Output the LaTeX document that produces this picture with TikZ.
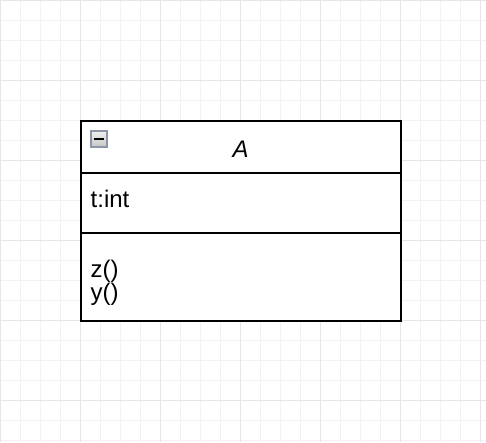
\documentclass[tikz,border=0pt]{standalone}
\usepackage{fontspec}
\setmainfont{Liberation Sans}
\usetikzlibrary{positioning}

\definecolor{gridminor}{HTML}{F2F2F2}
\definecolor{gridmajor}{HTML}{E6E6E6}
\definecolor{iconedge}{HTML}{8C96A6}

\tikzset{
  compart/.style={draw, line width=2pt, minimum width=320pt, inner sep=0pt, outer sep=0pt},
  membertext/.style={inner sep=0pt, font=\fontsize{24}{28}\selectfont},
}

\begin{document}
\begin{tikzpicture}[x=1pt,y=-1pt]
    % Background grid
    \fill[white] (0,0) rectangle (486,442);
    \useasboundingbox (0,0) rectangle (486,442);
    \foreach \i in {0,20,...,480}
        \draw[gridminor, line width=1.2pt] (\i+0.5,0) -- (\i+0.5,442);
    \foreach \j in {0,20,...,440}
        \draw[gridminor, line width=1.2pt] (0,\j+0.5) -- (486,\j+0.5);
    \foreach \i in {0,80,...,480}
        \draw[gridmajor, line width=1.2pt] (\i+0.5,0) -- (\i+0.5,442);
    \foreach \j in {0,80,...,400}
        \draw[gridmajor, line width=1.2pt] (0,\j+0.5) -- (486,\j+0.5);

    % Class box
    \node[compart, fill=white, minimum height=52pt, anchor=north west] (head) at (81,121) {};
    \node[compart, fill=white, minimum height=60pt, below=0pt of head] (attrs) {};
    \node[compart, fill=white, minimum height=88pt, below=0pt of attrs] (meths) {};

    % Collapse toggle
    \node[draw=iconedge, line width=1.5pt, minimum size=16pt, inner sep=0pt,
          top color=white!94!black, bottom color=white!78!black] (toggle) at (98.8,138.8) {};
    \draw[line width=2pt] ([xshift=-4.7pt]toggle.center) -- ([xshift=4.7pt]toggle.center);

    % Labels
    \node[membertext, anchor=base] (cname) at (240.5,157.5) {\itshape A};
    \node[membertext, anchor=base west] (tint) at (90.5,207.5) {t:int};
    \node[membertext, anchor=base west] (zcall) at (90.5,277) {z()};
    \node[membertext, anchor=base west] (ycall) at (90.5,300.5) {y()};
\end{tikzpicture}
\end{document}
